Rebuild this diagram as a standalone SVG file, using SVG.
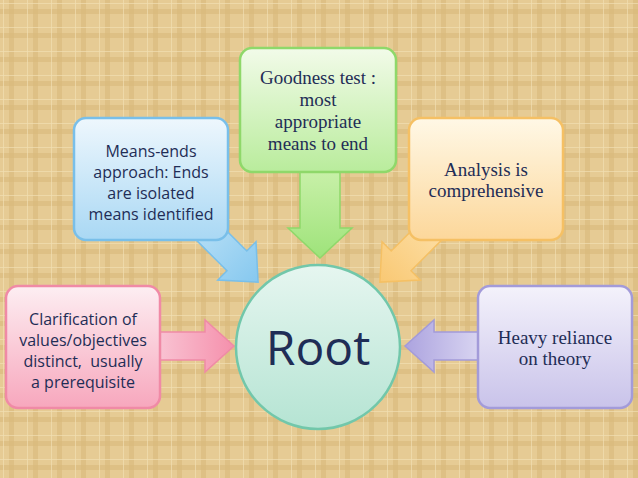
<svg xmlns="http://www.w3.org/2000/svg" width="638" height="478" viewBox="0 0 638 478">
<defs>
<pattern id="plaid" width="24" height="24" patternUnits="userSpaceOnUse">
<rect width="24" height="24" fill="#e6cb94"/>
<rect x="0" y="9" width="24" height="5" fill="#d8b97c" opacity="0.6"/>
<rect x="9" y="0" width="5" height="24" fill="#d8b97c" opacity="0.6"/>
<rect x="3" y="0" width="1" height="24" fill="#f1dfb2" opacity="0.7"/>
<rect x="0" y="3" width="24" height="1" fill="#f1dfb2" opacity="0.7"/>
</pattern>
<linearGradient id="gG" x1="0" y1="0" x2="0" y2="1"><stop offset="0" stop-color="#f2fbe9"/><stop offset="1" stop-color="#b9ec9c"/></linearGradient>
<linearGradient id="gB" x1="0" y1="0" x2="0" y2="1"><stop offset="0" stop-color="#eef7fd"/><stop offset="1" stop-color="#a9d8f4"/></linearGradient>
<linearGradient id="gO" x1="0" y1="0" x2="0" y2="1"><stop offset="0" stop-color="#fff8e6"/><stop offset="1" stop-color="#fcd79a"/></linearGradient>
<linearGradient id="gP" x1="0" y1="0" x2="0" y2="1"><stop offset="0" stop-color="#fdeef2"/><stop offset="1" stop-color="#f7a7bd"/></linearGradient>
<linearGradient id="gL" x1="0" y1="0" x2="0" y2="1"><stop offset="0" stop-color="#f4f2fb"/><stop offset="1" stop-color="#c9c3ea"/></linearGradient>
<linearGradient id="gC" x1="0" y1="0" x2="0" y2="1"><stop offset="0" stop-color="#e6f6f0"/><stop offset="1" stop-color="#b5e4d3"/></linearGradient>
<linearGradient id="aG" x1="0" y1="0" x2="0" y2="1"><stop offset="0" stop-color="#c8f0a8"/><stop offset="1" stop-color="#9ee37a"/></linearGradient>
<linearGradient id="aB" x1="0" y1="0" x2="1" y2="0"><stop offset="0" stop-color="#b9e0f6"/><stop offset="1" stop-color="#86c8ef"/></linearGradient>
<linearGradient id="aO" x1="0" y1="0" x2="1" y2="0"><stop offset="0" stop-color="#fde0a8"/><stop offset="1" stop-color="#f9c873"/></linearGradient>
<linearGradient id="aP" x1="0" y1="0" x2="1" y2="0"><stop offset="0" stop-color="#f9c2d2"/><stop offset="1" stop-color="#f590ac"/></linearGradient>
<linearGradient id="aL" x1="1" y1="0" x2="0" y2="0"><stop offset="0" stop-color="#d8d4f1"/><stop offset="1" stop-color="#aca3df"/></linearGradient>
</defs>
<style>
.box{stroke-width:2.5}
.sans{font-family:"Open Sans","Liberation Sans",sans-serif;font-size:16px;fill:#1f2d56;text-anchor:middle}
.serif{font-family:"Liberation Serif","DejaVu Serif",serif;font-size:19px;fill:#1f2d56;text-anchor:middle}
.arr{stroke-width:1.5}
</style>
<rect width="638" height="478" fill="url(#plaid)"/>
<g id="connectors">
<polygon class="arr" fill="url(#aG)" stroke="#8fd86a" points="300,172 340,172 340,228 352,228 320,258 288,228 300,228"/>
<polygon class="arr" fill="url(#aP)" stroke="#f08aa6" points="160,332 205,332 205,320 234,346 205,372 205,360 160,360"/>
<polygon class="arr" fill="url(#aL)" stroke="#a39bd9" points="478,332 434,332 434,320 405,346 434,372 434,360 478,360"/>
<polygon class="arr" fill="url(#aB)" stroke="#79bfe9" transform="translate(198,222) rotate(45)" points="0,-14 55,-14 55,-27 85,0 55,27 55,14 0,14"/>
<polygon class="arr" fill="url(#aO)" stroke="#f5c064" transform="translate(440,222) rotate(135)" points="0,-14 55,-14 55,-27 85,0 55,27 55,14 0,14"/>
</g>
<g id="root"><circle cx="318" cy="347" r="82" fill="url(#gC)" stroke="#72c7aa" stroke-width="2.5"/>
<text x="318" y="365" font-family="Open Sans,Liberation Sans,sans-serif" font-size="48" fill="#1f2d56" text-anchor="middle">Root</text></g>
<g id="goodness"><rect class="box" x="240" y="48" width="156" height="124" rx="12" fill="url(#gG)" stroke="#8fd86a"/>
<text class="serif" x="318" y="84">Goodness test :</text><text class="serif" x="318" y="106">most</text><text class="serif" x="318" y="128">appropriate</text><text class="serif" x="318" y="150">means to end</text></g>
<g id="meansends"><rect class="box" x="74" y="118" width="154" height="122" rx="12" fill="url(#gB)" stroke="#79bfe9"/>
<text class="sans" x="151" y="157">Means-ends</text><text class="sans" x="151" y="178">approach: Ends</text><text class="sans" x="151" y="199">are isolated</text><text class="sans" x="151" y="220">means identified</text></g>
<g id="analysis"><rect class="box" x="409" y="118" width="154" height="122" rx="12" fill="url(#gO)" stroke="#f5c064"/>
<text class="serif" x="486" y="176">Analysis is</text><text class="serif" x="486" y="197">comprehensive</text></g>
<g id="clarification"><rect class="box" x="6" y="286" width="154" height="122" rx="12" fill="url(#gP)" stroke="#f08aa6"/>
<text class="sans" x="83" y="325">Clarification of</text><text class="sans" x="83" y="346">values/objectives</text><text class="sans" x="83" y="367" xml:space="preserve">distinct,  usually</text><text class="sans" x="83" y="388">a prerequisite</text></g>
<g id="heavy"><rect class="box" x="478" y="286" width="154" height="122" rx="12" fill="url(#gL)" stroke="#a39bd9"/>
<text class="serif" x="555" y="344">Heavy reliance</text><text class="serif" x="555" y="365">on theory</text></g>
</svg>
